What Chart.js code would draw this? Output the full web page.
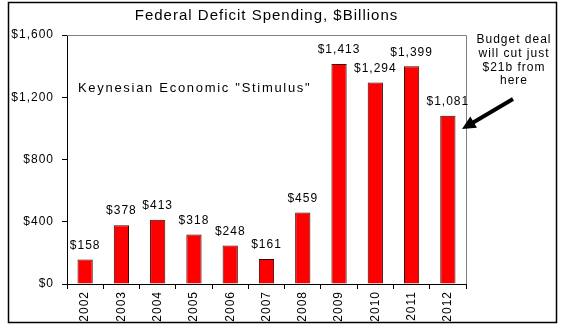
<!DOCTYPE html>
<html>
<head>
<meta charset="utf-8">
<script src="https://cdn.jsdelivr.net/npm/chart.js@4"></script>
<style>
  html, body { margin: 0; padding: 0; background: #fff; }
  #wrap { width: 563px; height: 332px; }
</style>
</head>
<body>
<div id="wrap"><canvas id="deficit" width="563" height="332"></canvas></div>
<script>
const years = ['2002', '2003', '2004', '2005', '2006', '2007', '2008', '2009', '2010', '2011', '2012'];
const deficit = [158, 378, 413, 318, 248, 161, 459, 1413, 1294, 1399, 1081];
const yTicks = [0, 400, 800, 1200, 1600];
const FONT = "'Liberation Sans', Arial, sans-serif";

const money = v => '$' + v.toLocaleString('en-US');

// frame, gray top/right border, value labels and notes
const extras = {
    id: 'extras',
    beforeDraw(chart) {
        chart.ctx.letterSpacing = '1px';
    },
    afterDraw(chart) {
        const ctx = chart.ctx;
        const a = chart.chartArea;
        ctx.save();
        ctx.letterSpacing = '1px';

        // plot border on top and right
        ctx.strokeStyle = '#808080';
        ctx.lineWidth = 1;
        ctx.beginPath();
        ctx.moveTo(a.left, a.top + 0.5);
        ctx.lineTo(a.right + 0.5, a.top + 0.5);
        ctx.lineTo(a.right + 0.5, a.bottom);
        ctx.stroke();

        // outer frame
        ctx.strokeStyle = '#000';
        ctx.lineWidth = 1.5;
        ctx.strokeRect(8.5, 2.5, 548, 320);

        // value above each bar
        ctx.fillStyle = '#000';
        ctx.font = '12px ' + FONT;
        ctx.textAlign = 'center';
        ctx.textBaseline = 'middle';
        chart.getDatasetMeta(0).data.forEach((bar, i) => {
            ctx.fillText(money(deficit[i]), bar.x, bar.y - 14);
        });

        ctx.font = '13px ' + FONT;
        ctx.textAlign = 'left';
        ctx.letterSpacing = '1.7px';
        ctx.fillText('Keynesian Economic "Stimulus"', 78, 88);

        ctx.font = '12px ' + FONT;
        ctx.textAlign = 'center';
        ctx.letterSpacing = '1px';
        ['Budget deal', 'will cut just', '$21b from', 'here'].forEach((s, i) => {
            ctx.fillText(s, 514, 40 + i * 13.7);
        });

        // arrow pointing at the last bar
        const x0 = 513, y0 = 99, x1 = 462, y1 = 129;
        const ang = Math.atan2(y1 - y0, x1 - x0);
        ctx.strokeStyle = '#000';
        ctx.lineWidth = 4;
        ctx.beginPath();
        ctx.moveTo(x0, y0);
        ctx.lineTo(x1 - 10 * Math.cos(ang), y1 - 10 * Math.sin(ang));
        ctx.stroke();
        ctx.beginPath();
        ctx.moveTo(x1, y1);
        ctx.lineTo(x1 - 15 * Math.cos(ang - 0.45), y1 - 15 * Math.sin(ang - 0.45));
        ctx.lineTo(x1 - 15 * Math.cos(ang + 0.45), y1 - 15 * Math.sin(ang + 0.45));
        ctx.closePath();
        ctx.fill();
        ctx.restore();
    }
};

new Chart(document.getElementById('deficit'), {
    type: 'bar',
    data: {
        labels: years,
        datasets: [{
            data: deficit,
            backgroundColor: '#ff0000',
            borderColor: '#400000',
            borderWidth: 1,
            barPercentage: 0.42,
            categoryPercentage: 1
        }]
    },
    options: {
        responsive: false,
        animation: false,
        layout: { padding: { left: 0, right: 97, top: 0, bottom: 0 } },
        plugins: {
            legend: { display: false },
            tooltip: { enabled: false },
            title: {
                display: true,
                text: 'Federal Deficit Spending, $Billions',
                fullSize: false,
                color: '#000',
                font: { family: FONT, size: 15, weight: 'normal' },
                padding: { top: 7, bottom: 10 }
            }
        },
        scales: {
            x: {
                afterFit: s => { s.height = 48; },
                border: { color: '#000', width: 1 },
                grid: { drawOnChartArea: false, tickLength: 5, color: '#000', offset: true },
                ticks: {
                    color: '#000',
                    font: { family: FONT, size: 12 },
                    minRotation: 90,
                    maxRotation: 90,
                    padding: 2
                }
            },
            y: {
                min: 0,
                max: 1600,
                afterFit: s => { s.width = 67; },
                afterBuildTicks: s => { s.ticks = yTicks.map(v => ({ value: v })); },
                border: { color: '#000', width: 1 },
                grid: { drawOnChartArea: false, tickLength: 5, color: '#000' },
                ticks: {
                    color: '#000',
                    font: { family: FONT, size: 12 },
                    padding: 8,
                    callback: v => money(v)
                }
            }
        }
    },
    plugins: [extras]
});
</script>
</body>
</html>
